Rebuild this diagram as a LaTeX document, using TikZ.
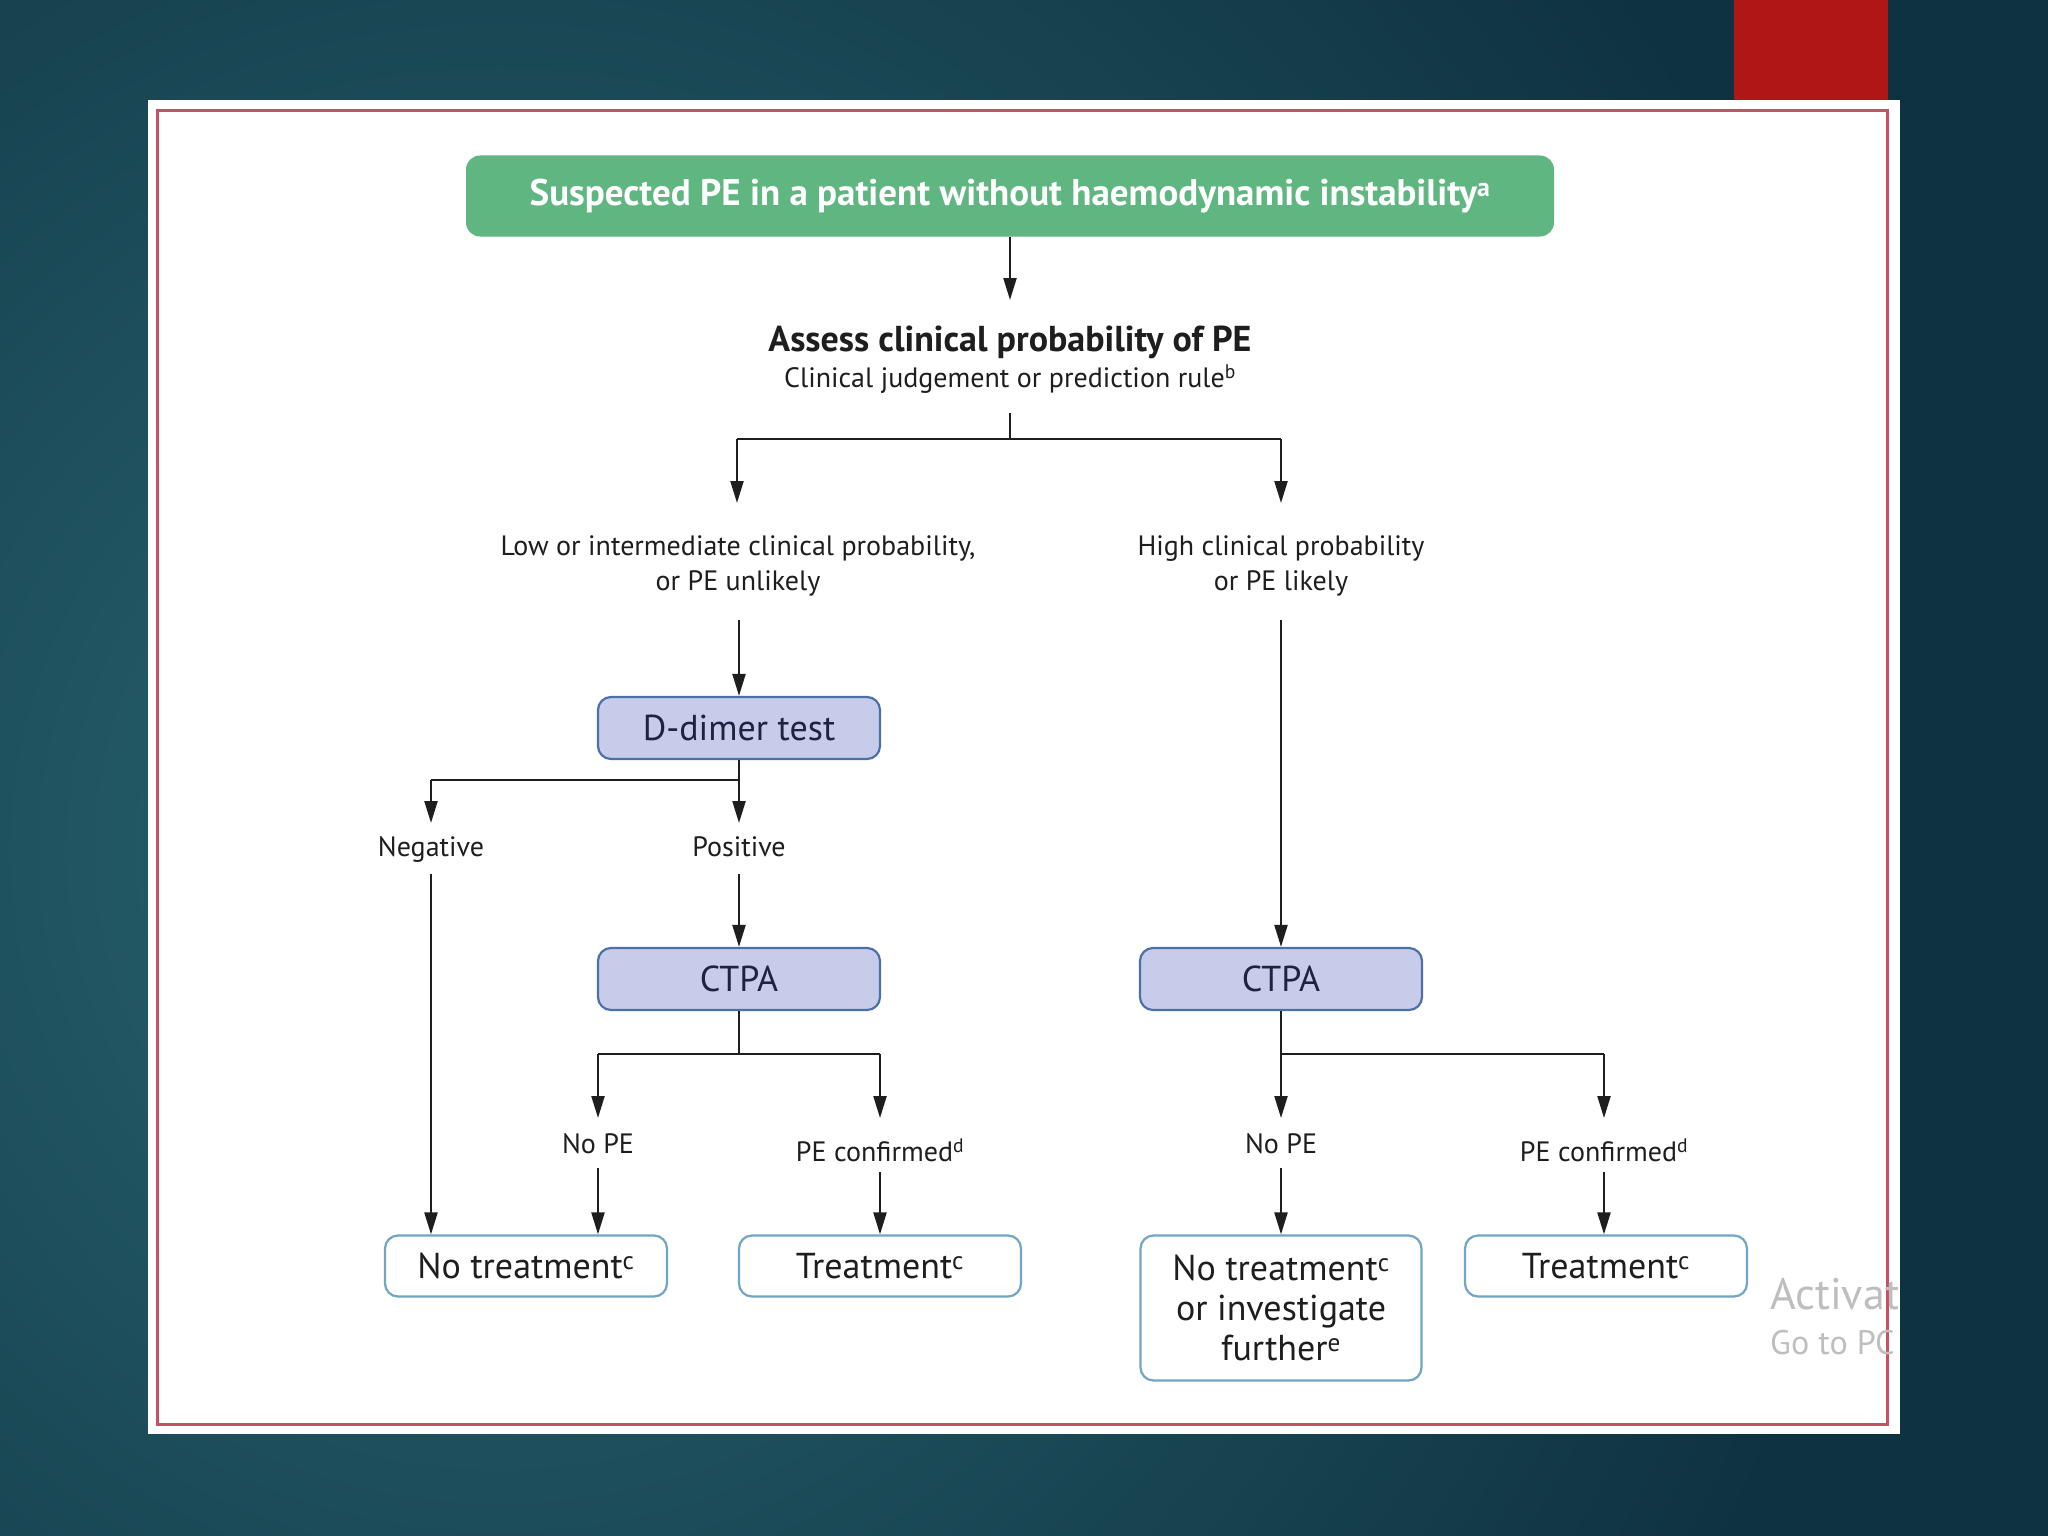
\documentclass[tikz,border=0pt]{standalone}
\usepackage{fontspec}
\setmainfont{PT Sans}
\usetikzlibrary{arrows.meta}
\definecolor{bgin}{RGB}{40,100,112}
\definecolor{bgout}{RGB}{15,50,64}
\definecolor{slidered}{RGB}{175,22,22}
\definecolor{frame}{RGB}{200,80,100}
\definecolor{topgreen}{RGB}{96,182,128}
\definecolor{bluefill}{RGB}{198,204,234}
\definecolor{blueline}{RGB}{78,112,168}
\definecolor{lightline}{RGB}{112,165,196}
\definecolor{ink}{RGB}{30,30,30}
\definecolor{navy}{RGB}{30,36,62}
\definecolor{wm}{RGB}{190,190,190}
\tikzset{
  arr/.style={draw=ink, line width=2.2pt, -{Triangle[length=22pt,width=13pt]}},
  ln/.style={draw=ink, line width=2.2pt},
  greenbox/.style={fill=topgreen, draw=none, rounded corners=14pt, minimum width=1088pt, minimum height=81pt, text=white, font=\fontsize{37}{42}\selectfont\bfseries},
  bluebox/.style={fill=bluefill, draw=blueline, line width=2.2pt, rounded corners=13pt, minimum width=282pt, minimum height=62pt, text=navy, font=\fontsize{36}{40}\selectfont},
  outbox/.style={fill=white, draw=lightline, line width=2.2pt, rounded corners=13pt, minimum width=282pt, minimum height=61pt, text=ink, font=\fontsize{36}{40}\selectfont, align=center},
  lbl/.style={text=ink, font=\fontsize{28}{35}\selectfont, align=center, inner sep=0pt},
  sl/.style={text height=0.72em, text depth=0.22em},
  head/.style={text=ink, font=\fontsize{36}{40}\selectfont\bfseries, inner sep=0pt},
  wmtext/.style={text=wm, anchor=west, inner sep=0pt}
}
\begin{document}
\begin{tikzpicture}[x=1pt,y=-1pt]
\useasboundingbox (0,0) rectangle (2048,1536);
% background
\fill[bgout] (0,0) rectangle (2048,1536);
\shade[inner color=bgin, outer color=bgout] (-900,-600) rectangle (1900,2300);
\fill[slidered] (1734,0) rectangle (1888,101);
\fill[white] (148,100) rectangle (1900,1434);
\draw[frame, line width=3pt] (157,111) rectangle (1887,1424);
% watermark
\begin{scope}
\clip (148,100) rectangle (1897,1434);
\node[wmtext, font=\fontsize{44}{44}\selectfont] (wm1) at (1770,1294) {Activat};
\node[wmtext, font=\fontsize{34}{34}\selectfont] (wm2) at (1770,1343) {Go to PC};
\end{scope}
% nodes
\node[greenbox] (start) at (1010,196) {Suspected PE in a patient without haemodynamic instability\textsuperscript{a}};
\node[head] (assess) at (1010,342) {Assess clinical probability of PE};
\node[lbl] (rule) at (1010,379) {Clinical judgement or prediction rule\textsuperscript{b}};
\node[lbl] (low) at (738,566) {Low or intermediate clinical probability,\\or PE unlikely};
\node[lbl] (high) at (1281,566) {High clinical probability\\or PE likely};
\node[bluebox] (dd) at (739,728) {D-dimer test};
\node[lbl, sl] (neg) at (431,854) {Negative};
\node[lbl, sl] (pos) at (739,854) {Positive};
\node[bluebox] (ctl) at (739,979) {CTPA};
\node[bluebox] (ctr) at (1281,979) {CTPA};
\node[lbl, sl] (nopel) at (598,1151) {No PE};
\node[lbl, sl] (pecl) at (880,1159) {PE confirmed\textsuperscript{d}};
\node[lbl, sl] (noper) at (1281,1151) {No PE};
\node[lbl, sl] (pecr) at (1604,1159) {PE confirmed\textsuperscript{d}};
\node[outbox] (ntl) at (526,1266) {No treatment\textsuperscript{c}};
\node[outbox] (tl) at (880,1266) {Treatment\textsuperscript{c}};
\node[outbox, minimum width=281pt, minimum height=145pt] (ntr) at (1281,1308) {No treatment\textsuperscript{c}\\or investigate\\further\textsuperscript{e}};
\node[outbox] (tr) at (1606,1266) {Treatment\textsuperscript{c}};
% helper coordinates
\coordinate (a1) at (1010,300);
\coordinate (b0) at (1010,413);
\coordinate (b1) at (1010,439);
\coordinate (bl) at (737,439);
\coordinate (br) at (1281,439);
\coordinate (blt) at (737,503);
\coordinate (brt) at (1281,503);
\coordinate (lows) at (739,620);
\coordinate (highs) at (1281,620);
\coordinate (d1) at (739,780);
\coordinate (dl) at (431,780);
\coordinate (dlt) at (431,823);
\coordinate (dpt) at (739,823);
\coordinate (negs) at (431,874);
\coordinate (poss) at (739,874);
\coordinate (c1) at (739,1054);
\coordinate (cl) at (598,1054);
\coordinate (cr) at (880,1054);
\coordinate (clt) at (598,1118);
\coordinate (crt) at (880,1118);
\coordinate (e1) at (1281,1054);
\coordinate (er) at (1604,1054);
\coordinate (ert) at (1604,1118);
\coordinate (emt) at (1281,1118);
\coordinate (nls) at (598,1168);
\coordinate (pls) at (880,1172);
\coordinate (nrs) at (1281,1168);
\coordinate (prs) at (1604,1172);
% connectors
\draw[arr] (start.south) -- (a1);
\draw[ln] (b0) -- (b1);
\draw[ln] (bl) -- (br);
\draw[arr] (bl) -- (blt);
\draw[arr] (br) -- (brt);
\draw[arr] (lows) -- (dd.north);
\draw[arr] (highs) -- (ctr.north);
\draw[ln] (dd.south) -- (d1) -- (dl);
\draw[arr] (dl) -- (dlt);
\draw[arr] (d1) -- (dpt);
\draw[arr] (negs) -- (negs |- ntl.north);
\draw[arr] (poss) -- (ctl.north);
\draw[ln] (ctl.south) -- (c1);
\draw[ln] (cl) -- (cr);
\draw[arr] (cl) -- (clt);
\draw[arr] (cr) -- (crt);
\draw[arr] (ctr.south) -- (emt);
\draw[ln] (e1) -- (er);
\draw[arr] (er) -- (ert);
\draw[arr] (nls) -- (nls |- ntl.north);
\draw[arr] (pls) -- (tl.north);
\draw[arr] (nrs) -- (ntr.north);
\draw[arr] (prs) -- (prs |- tr.north);
\end{tikzpicture}
\end{document}
